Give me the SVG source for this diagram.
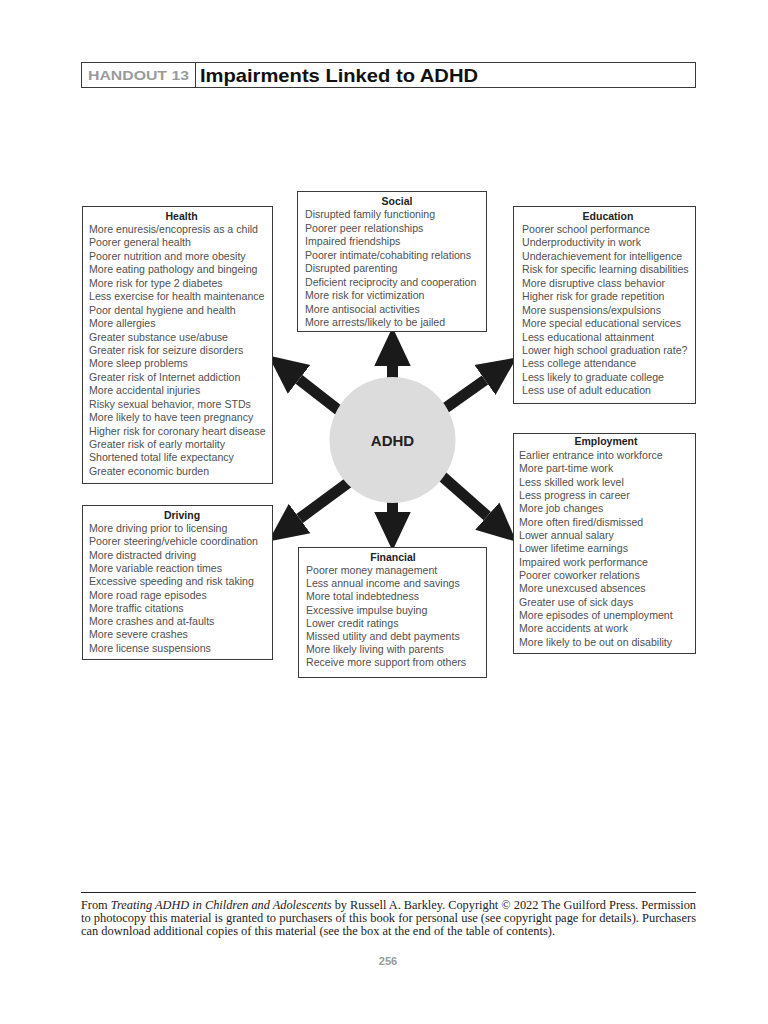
<svg xmlns="http://www.w3.org/2000/svg" width="768" height="1024" viewBox="0 0 768 1024">
<style>
.box{fill:#fff;stroke:#3a3a3a;stroke-width:1}
.t{font-family:"Liberation Sans",Arial,sans-serif;font-size:10.6px;fill:#505050}
.h{font-family:"Liberation Sans",Arial,sans-serif;font-size:10.5px;font-weight:bold;fill:#222;text-anchor:middle}
.arr{stroke:#1a1a1a;stroke-width:11;fill:none;marker-end:url(#head)}
.foot{font-family:"Liberation Serif","Times New Roman",serif;font-size:11.6px;fill:#222}
</style>
<defs>
<marker id="head" markerUnits="userSpaceOnUse" markerWidth="40" markerHeight="40" viewBox="0 -17 34 34" refX="0" refY="0" orient="auto">
<path d="M0,-15.5 L33,0 L0,15.5 Z" fill="#1a1a1a"/>
</marker>
</defs>
<rect width="768" height="1024" fill="#fff"/>

<g id="header">
<rect x="81.5" y="62.5" width="614" height="25" fill="#fff" stroke="#3a3a3a" stroke-width="1"/>
<line x1="195.5" y1="62.5" x2="195.5" y2="87.5" stroke="#3a3a3a" stroke-width="1"/>
<text x="88" y="80" font-family="Liberation Sans,Arial,sans-serif" font-size="13" font-weight="bold" fill="#9a9a9a" textLength="101" lengthAdjust="spacingAndGlyphs">HANDOUT 13</text>
<text x="200" y="81.5" font-family="Liberation Sans,Arial,sans-serif" font-size="19" font-weight="bold" fill="#111" textLength="278" lengthAdjust="spacingAndGlyphs">Impairments Linked to ADHD</text>
</g>

<g id="connectors">
<line class="arr" x1="392.5" y1="392" x2="392.5" y2="366"/>
<line class="arr" x1="392.5" y1="490" x2="392.5" y2="512"/>
<line class="arr" x1="346" y1="416" x2="299" y2="379.4"/>
<line class="arr" x1="437" y1="414" x2="485" y2="380"/>
<line class="arr" x1="356" y1="477" x2="299.6" y2="518.5"/>
<line class="arr" x1="435" y1="470" x2="487.3" y2="516.1"/>
</g>

<g id="adhd">
<circle cx="392.5" cy="440" r="63" fill="#dcdcdc"/>
<text x="392.5" y="446" font-family="Liberation Sans,Arial,sans-serif" font-size="15" font-weight="bold" fill="#222" text-anchor="middle">ADHD</text>
</g>

<g id="health">
<rect class="box" x="82.5" y="206.5" width="190" height="277"/>
<text class="h" x="181.5" y="220">Health</text>
<text class="t" x="89" y="233">
<tspan x="89" dy="0">More enuresis/encopresis as a child</tspan>
<tspan x="89" dy="13.44">Poorer general health</tspan>
<tspan x="89" dy="13.44">Poorer nutrition and more obesity</tspan>
<tspan x="89" dy="13.44">More eating pathology and bingeing</tspan>
<tspan x="89" dy="13.44">More risk for type 2 diabetes</tspan>
<tspan x="89" dy="13.44">Less exercise for health maintenance</tspan>
<tspan x="89" dy="13.44">Poor dental hygiene and health</tspan>
<tspan x="89" dy="13.44">More allergies</tspan>
<tspan x="89" dy="13.44">Greater substance use/abuse</tspan>
<tspan x="89" dy="13.44">Greater risk for seizure disorders</tspan>
<tspan x="89" dy="13.44">More sleep problems</tspan>
<tspan x="89" dy="13.44">Greater risk of Internet addiction</tspan>
<tspan x="89" dy="13.44">More accidental injuries</tspan>
<tspan x="89" dy="13.44">Risky sexual behavior, more STDs</tspan>
<tspan x="89" dy="13.44">More likely to have teen pregnancy</tspan>
<tspan x="89" dy="13.44">Higher risk for coronary heart disease</tspan>
<tspan x="89" dy="13.44">Greater risk of early mortality</tspan>
<tspan x="89" dy="13.44">Shortened total life expectancy</tspan>
<tspan x="89" dy="13.44">Greater economic burden</tspan>
</text>
</g>

<g id="social">
<rect class="box" x="297.5" y="191.5" width="189" height="140"/>
<text class="h" x="397" y="205">Social</text>
<text class="t" x="305" y="218">
<tspan x="305" dy="0">Disrupted family functioning</tspan>
<tspan x="305" dy="13.5">Poorer peer relationships</tspan>
<tspan x="305" dy="13.5">Impaired friendships</tspan>
<tspan x="305" dy="13.5">Poorer intimate/cohabiting relations</tspan>
<tspan x="305" dy="13.5">Disrupted parenting</tspan>
<tspan x="305" dy="13.5">Deficient reciprocity and cooperation</tspan>
<tspan x="305" dy="13.5">More risk for victimization</tspan>
<tspan x="305" dy="13.5">More antisocial activities</tspan>
<tspan x="305" dy="13.5">More arrests/likely to be jailed</tspan>
</text>
</g>

<g id="education">
<rect class="box" x="513.5" y="206.5" width="182" height="197"/>
<text class="h" x="608" y="220">Education</text>
<text class="t" x="522" y="233">
<tspan x="522" dy="0">Poorer school performance</tspan>
<tspan x="522" dy="13.44">Underproductivity in work</tspan>
<tspan x="522" dy="13.44">Underachievement for intelligence</tspan>
<tspan x="522" dy="13.44">Risk for specific learning disabilities</tspan>
<tspan x="522" dy="13.44">More disruptive class behavior</tspan>
<tspan x="522" dy="13.44">Higher risk for grade repetition</tspan>
<tspan x="522" dy="13.44">More suspensions/expulsions</tspan>
<tspan x="522" dy="13.44">More special educational services</tspan>
<tspan x="522" dy="13.44">Less educational attainment</tspan>
<tspan x="522" dy="13.44">Lower high school graduation rate?</tspan>
<tspan x="522" dy="13.44">Less college attendance</tspan>
<tspan x="522" dy="13.44">Less likely to graduate college</tspan>
<tspan x="522" dy="13.44">Less use of adult education</tspan>
</text>
</g>

<g id="employment">
<rect class="box" x="513.5" y="433.5" width="182" height="220"/>
<text class="h" x="606" y="445">Employment</text>
<text class="t" x="519" y="459">
<tspan x="519" dy="0">Earlier entrance into workforce</tspan>
<tspan x="519" dy="13.33">More part-time work</tspan>
<tspan x="519" dy="13.33">Less skilled work level</tspan>
<tspan x="519" dy="13.33">Less progress in career</tspan>
<tspan x="519" dy="13.33">More job changes</tspan>
<tspan x="519" dy="13.33">More often fired/dismissed</tspan>
<tspan x="519" dy="13.33">Lower annual salary</tspan>
<tspan x="519" dy="13.33">Lower lifetime earnings</tspan>
<tspan x="519" dy="13.33">Impaired work performance</tspan>
<tspan x="519" dy="13.33">Poorer coworker relations</tspan>
<tspan x="519" dy="13.33">More unexcused absences</tspan>
<tspan x="519" dy="13.33">Greater use of sick days</tspan>
<tspan x="519" dy="13.33">More episodes of unemployment</tspan>
<tspan x="519" dy="13.33">More accidents at work</tspan>
<tspan x="519" dy="13.33">More likely to be out on disability</tspan>
</text>
</g>

<g id="driving">
<rect class="box" x="82.5" y="505.5" width="190" height="154"/>
<text class="h" x="182" y="519">Driving</text>
<text class="t" x="89" y="532">
<tspan x="89" dy="0">More driving prior to licensing</tspan>
<tspan x="89" dy="13.3">Poorer steering/vehicle coordination</tspan>
<tspan x="89" dy="13.3">More distracted driving</tspan>
<tspan x="89" dy="13.3">More variable reaction times</tspan>
<tspan x="89" dy="13.3">Excessive speeding and risk taking</tspan>
<tspan x="89" dy="13.3">More road rage episodes</tspan>
<tspan x="89" dy="13.3">More traffic citations</tspan>
<tspan x="89" dy="13.3">More crashes and at-faults</tspan>
<tspan x="89" dy="13.3">More severe crashes</tspan>
<tspan x="89" dy="13.3">More license suspensions</tspan>
</text>
</g>

<g id="financial">
<rect class="box" x="298.5" y="547.5" width="188" height="130"/>
<text class="h" x="393" y="561">Financial</text>
<text class="t" x="306" y="574">
<tspan x="306" dy="0">Poorer money management</tspan>
<tspan x="306" dy="13.2">Less annual income and savings</tspan>
<tspan x="306" dy="13.2">More total indebtedness</tspan>
<tspan x="306" dy="13.2">Excessive impulse buying</tspan>
<tspan x="306" dy="13.2">Lower credit ratings</tspan>
<tspan x="306" dy="13.2">Missed utility and debt payments</tspan>
<tspan x="306" dy="13.2">More likely living with parents</tspan>
<tspan x="306" dy="13.2">Receive more support from others</tspan>
</text>
</g>

<g id="footer">
<line x1="81" y1="892.5" x2="696" y2="892.5" stroke="#222" stroke-width="1"/>
<text class="foot" x="81" y="909" textLength="615" lengthAdjust="spacingAndGlyphs">From <tspan font-style="italic">Treating ADHD in Children and Adolescents</tspan> by Russell A. Barkley. Copyright © 2022 The Guilford Press. Permission</text>
<text class="foot" x="81" y="922" textLength="615" lengthAdjust="spacingAndGlyphs">to photocopy this material is granted to purchasers of this book for personal use (see copyright page for details). Purchasers</text>
<text class="foot" x="81" y="935" textLength="474" lengthAdjust="spacingAndGlyphs">can download additional copies of this material (see the box at the end of the table of contents).</text>
<text x="388" y="965" font-family="Liberation Sans,Arial,sans-serif" font-size="11" font-weight="bold" fill="#999" text-anchor="middle">256</text>
</g>
</svg>
